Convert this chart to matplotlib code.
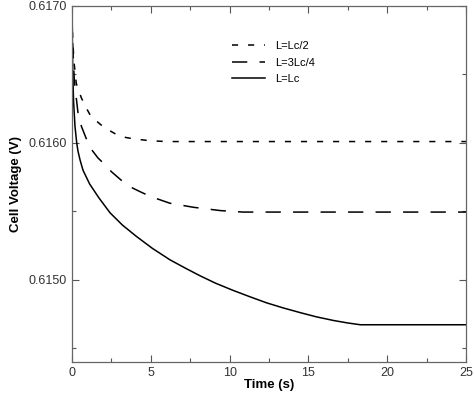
import matplotlib
matplotlib.use("Agg")
import matplotlib.pyplot as plt
from matplotlib.ticker import MultipleLocator, FormatStrFormatter

plt.rcParams['font.family'] = ['Liberation Sans', 'DejaVu Sans']

# Data
t_half = [0, 0.05, 0.12, 0.27, 0.59, 0.93, 1.22, 1.55, 1.86, 2.39, 2.84, 3.4, 3.9, 4.95, 6.0, 25]
v_half = [0.61693, 0.61675, 0.61660, 0.616435, 0.61633, 0.61625, 0.61619, 0.61616, 0.61613, 0.61609, 0.61606, 0.61604, 0.61603, 0.616016, 0.61601, 0.61601]

t_3q = [0, 0.05, 0.15, 0.38, 0.6, 0.91, 1.25, 1.65, 2.1, 2.5, 3.1, 3.68, 4.3, 4.95, 6.2, 7.7, 9.4, 10.85, 25]
v_3q = [0.61693, 0.61670, 0.61645, 0.61622, 0.61612, 0.61603, 0.61595, 0.61589, 0.61584, 0.61579, 0.61573, 0.61568, 0.615645, 0.61561, 0.61556, 0.61553, 0.615506, 0.615495, 0.615495]

t_full = [0, 0.05, 0.1, 0.19, 0.3, 0.38, 0.51, 0.7, 1.12, 1.7, 2.41, 3.2, 4.1, 5.1, 6.22, 7.2, 8.12, 9.1, 10.2, 11.3, 12.35, 13.4, 14.5, 15.5, 16.6, 17.5, 18.3, 25]
v_full = [0.61693, 0.61650, 0.61630, 0.61612, 0.61600, 0.61594, 0.615876, 0.61580, 0.61570, 0.61560, 0.61549, 0.61540, 0.615316, 0.61523, 0.615146, 0.615085, 0.61503, 0.614976, 0.614924, 0.614876, 0.614832, 0.614795, 0.61476, 0.61473, 0.614703, 0.614685, 0.614672, 0.614672]

labels = ["L=Lc/2", "L=3Lc/4", "L=Lc"]

fig = plt.figure(figsize=(4.74, 3.95), dpi=100)
ax = fig.add_axes([72/474, 1 - 362/395, (466-72)/474, (362-6)/395])

ax.plot(t_half, v_half, color='black', lw=1.1, linestyle=(0, (4, 6.5)), label=labels[0])
ax.plot(t_3q, v_3q, color='black', lw=1.1, linestyle=(0, (10, 8)), label=labels[1])
ax.plot(t_full, v_full, color='black', lw=1.1, linestyle='-', label=labels[2])

ax.set_xlim(0, 25)
ax.set_ylim(0.6144, 0.6170)
ax.xaxis.set_major_locator(MultipleLocator(5))
ax.xaxis.set_minor_locator(MultipleLocator(2.5))
ax.yaxis.set_major_locator(MultipleLocator(0.001))
ax.yaxis.set_minor_locator(MultipleLocator(0.0005))
ax.yaxis.set_major_formatter(FormatStrFormatter('%.4f'))

ax.tick_params(which='both', direction='in', top=True, right=True, colors='#555555',
               labelcolor='#333333', labelsize=9)
ax.tick_params(which='major', length=5, width=0.8)
ax.tick_params(which='minor', length=3, width=0.8)
for s in ax.spines.values():
    s.set_color('#666666')
    s.set_linewidth(0.9)

ax.set_xlabel('Time (s)', fontsize=9.5, fontweight='bold', labelpad=0)
ax.set_ylabel('Cell Voltage (V)', fontsize=9.5, fontweight='bold', labelpad=5)

leg = ax.legend(loc='upper left', bbox_to_anchor=(0.38, 0.93), frameon=False,
                fontsize=8, handlelength=3.0, handletextpad=0.9, labelspacing=0.6)

fig.savefig('out.png', dpi=100)
